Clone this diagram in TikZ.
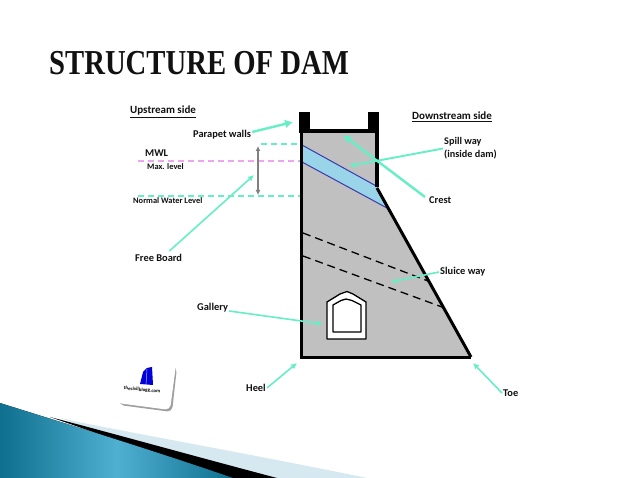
\documentclass[tikz,border=0pt]{standalone}
\usepackage{fontspec}
\setmainfont{Carlito}
\newfontfamily\titlefont[FakeStretch=0.82]{Liberation Serif}
\usetikzlibrary{arrows.meta,calc}
\definecolor{pointer}{HTML}{66EFC6}
\definecolor{dambody}{HTML}{C0C0C0}
\definecolor{spillfill}{HTML}{9AD4E8}
\definecolor{spillline}{HTML}{3A3AB0}
\definecolor{mwlline}{HTML}{F0A4F0}
\definecolor{ink}{HTML}{111111}
\definecolor{tealdark}{HTML}{0E6F8E}
\definecolor{teallight}{HTML}{4FB0D2}
\definecolor{palewave}{HTML}{D6E8F0}
\tikzset{
  lbl/.style={font=\bfseries\fontsize{10.4}{12}\selectfont,text=ink,inner sep=1pt,anchor=west},
  lblbig/.style={lbl,font=\bfseries\fontsize{11}{13}\selectfont},
  lblsmall/.style={lbl,font=\bfseries\fontsize{8.4}{10}\selectfont},
  pointerline/.style={pointer,line width=1.6pt,-{Latex[length=6pt,width=6pt]}},
  pointerthick/.style={pointer,line width=2.4pt,-{Latex[length=8pt,width=9pt]}},
  levelline/.style={line width=1.2pt,dash pattern=on 6pt off 4pt},
  sluiceline/.style={black,line width=1.3pt,dash pattern=on 8pt off 5pt},
  spillborder/.style={spillline,line width=1pt}
}
\begin{document}
\begin{tikzpicture}[x=1pt,y=-1pt]
\useasboundingbox (0,0) rectangle (638,478);
\fill[white] (0,0) rectangle (638,478);
% title
\node[font=\titlefont\bfseries\fontsize{35}{38}\selectfont,text=ink,inner sep=0pt,anchor=west] (title) at (49,63){STRUCTURE OF DAM};
% wave
\fill[palewave] (83,423) .. controls (170,440) and (270,458) .. (367,478) -- (230,478) -- (60,418) -- cycle;
\fill[black] (50,417) .. controls (100,430) and (190,455) .. (277,478) -- (225,478) -- cycle;
\fill[left color=tealdark,right color=tealdark,middle color=teallight] (0,403) .. controls (60,422) and (140,446) .. (233,478) -- (0,478) -- cycle;
% dam
\fill[dambody] (301,132) -- (377,132) -- (377,187) -- (471,357) -- (301,357) -- cycle;
\fill[spillfill] (302,145) -- (377,186) -- (387,208) -- (302,162) -- cycle;
\draw[spillborder] (302,145) -- (378,187);
\draw[spillborder] (302,162) -- (387,208);
\draw[sluiceline] (303,233) -- (428,281);
\draw[sluiceline] (303,256) -- (442,307);
\draw[black,line width=3.6pt] (301.5,112) -- (301.5,357.5) -- (471,357.5);
\draw[black,line width=3pt] (377,188) -- (471,357);
\fill[black] (299,112) rectangle (310,130);
\fill[black] (368,112) rectangle (379,130);
\fill[black] (299,129.5) rectangle (379,133.5);
\fill[black] (375,130) rectangle (379,187);
% gallery
\draw[black,fill=white,line width=1.3pt,line join=round] (327,339) -- (327,302) -- (340,294) -- (347,291.5) -- (353,294) -- (366,302) -- (366,339) -- cycle;
\draw[black,fill=white,line width=1.3pt,line join=round] (333,332) -- (333,305) -- (341,300.5) -- (346,299) -- (352,300.5) -- (361,305) -- (361,332) -- cycle;
% levels
\coordinate (fbtop) at (258,146);
\coordinate (fbbot) at (258,195);
\draw[levelline,pointer] (261,144) -- (300,144);
\draw[levelline,mwlline] (138,161) -- (300,161);
\draw[levelline,pointer] (138,196) -- (300,196);
\draw[gray,line width=1.3pt,{Latex[length=5pt,width=5pt]}-{Latex[length=5pt,width=5pt]}] (fbtop) -- (fbbot);
% labels
\node[lblbig] (up) at (129,112){\underline{Upstream side}};
\node[lblbig] (down) at (411,117){\underline{Downstream side}};
\node[lbl] (parapet) at (192,135){Parapet walls};
\node[lbl] (mwl) at (144,153){MWL};
\node[lblsmall] (maxlevel) at (146,167){Max. level};
\node[lblsmall] (normal) at (132,201){Normal Water Level};
\node[lbl] (freeboard) at (134,258){Free Board};
\node[lbl,align=left,font=\bfseries\fontsize{10.2}{13}\selectfont] (spill) at (443,148.5){Spill way\\(inside dam)};
\node[lbl] (crest) at (428,200){Crest};
\node[lbl] (sluice) at (439,272){Sluice way};
\node[lbl] (gallery) at (196,308){Gallery};
\node[lbl] (heel) at (245,388){Heel};
\node[lbl] (toe) at (502,393){Toe};
% pointers
\coordinate (parapettip) at (293,122);
\coordinate (spilltip) at (349,166);
\coordinate (cresttip) at (343,135);
\coordinate (fbtip) at (254,175);
\coordinate (sluicetip) at (391,282);
\coordinate (gallerytip) at (323,324);
\coordinate (heeltip) at (297,363);
\coordinate (toetip) at (473,363);
\draw[pointerthick] ([yshift=3pt]parapet.east) -- (parapettip);
\draw[pointerline,line width=1.9pt] (spill.west) -- (spilltip);
\draw[pointerthick] ([xshift=-3pt,yshift=3pt]crest.west) -- (cresttip);
\draw[pointerline] ([xshift=-14pt,yshift=2pt]freeboard.north east) -- (fbtip);
\draw[pointerline] (sluice.west) -- (sluicetip);
\draw[pointerline] ([yshift=-3pt]gallery.east) -- (gallerytip);
\draw[pointerline] (heel.east) -- (heeltip);
\draw[pointerline] (toe.west) -- (toetip);
% logo
\fill[gray!75,rounded corners=5pt] (127,364) -- (177,367) -- (172,412) -- (119,405) -- cycle;
\fill[white,rounded corners=5pt] (125,362) -- (176,365) -- (170,410) -- (117,403) -- cycle;
\fill[blue!85!black] (140,384) -- (143,372) -- (147,368) -- (152,367) -- (153,385) -- cycle;
\draw[blue!30,line width=.5pt] (147,369) -- (146,385);
\node[font=\bfseries\fontsize{5}{6}\selectfont,inner sep=0pt,rotate=-5] (logotext) at (142,390){thecivilblogg.com};
\end{tikzpicture}
\end{document}
